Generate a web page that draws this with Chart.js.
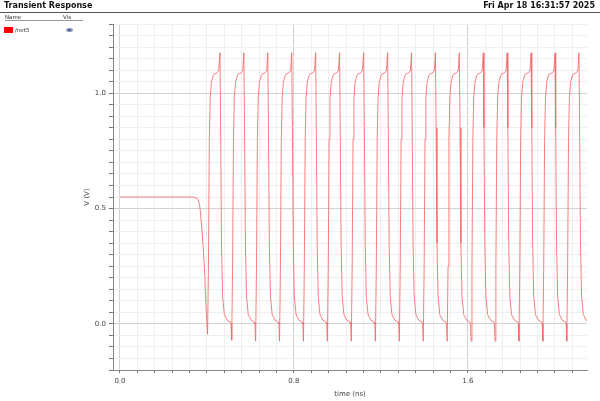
<!DOCTYPE html>
<html>
<head>
<meta charset="utf-8">
<script src="https://cdn.jsdelivr.net/npm/chart.js@4.4.1/dist/chart.umd.min.js"></script>
<style>
  body { margin: 0; background: #fff; }
  #wrap { position: relative; width: 600px; height: 401px; font-family: "DejaVu Sans", sans-serif; }
  #chartWave { position: absolute; left: 0; top: 0; }
  .hdr { position: absolute; top: 1px; font-weight: bold; font-size: 8px; color: #111; white-space: nowrap; }
  #rule { position: absolute; left: 0; top: 12px; width: 600px; height: 0; border-top: 1.5px solid #555; }
  .leg { position: absolute; font-size: 5.5px; color: #333; white-space: nowrap; }
  #legRule { position: absolute; left: 5px; top: 20px; width: 78px; border-top: 1px solid #999; }
  #swatch { position: absolute; left: 4px; top: 27px; width: 9px; height: 6px; background: #f00; }
  #eye { position: absolute; left: 66px; top: 28px; width: 7px; height: 4px; border-radius: 50%; background: #8a9cc4; }
  #eye:after { content: ""; position: absolute; left: 2px; top: 1px; width: 3px; height: 2px; border-radius: 50%; background: #3f5588; }
</style>
</head>
<body>
<div id="wrap">
  <canvas id="chartWave" width="600" height="401"></canvas>
  <div class="hdr" style="left:4px">Transient Response</div>
  <div class="hdr" style="right:5px">Fri Apr 18 16:31:57 2025</div>
  <div id="rule"></div>
  <div class="leg" style="left:5px; top:14px">Name</div>
  <div class="leg" style="left:63px; top:14px">Vis</div>
  <div id="legRule"></div>
  <div id="swatch"></div>
  <div class="leg" style="left:15px; top:27px">/net5</div>
  <div id="eye"></div>
</div>
<script>
// signal name
const seriesName = "/net5";

// time points (ns)
const timeNs = [
    0.000, 0.330, 0.345, 0.359, 0.368, 0.376, 0.383, 0.390, 0.396, 0.403,
    0.407, 0.411, 0.415, 0.421, 0.430, 0.448, 0.454,
    0.460, 0.463, 0.467, 0.472, 0.480, 0.494, 0.508, 0.511, 0.514, 0.518, 0.522, 0.526, 0.532, 0.541, 0.559, 0.565,
    0.570, 0.573, 0.577, 0.582, 0.590, 0.604, 0.618, 0.621, 0.624, 0.628, 0.632, 0.636, 0.642, 0.651, 0.669, 0.675,
    0.680, 0.683, 0.687, 0.692, 0.700, 0.714, 0.728, 0.731, 0.734, 0.738, 0.742, 0.746, 0.752, 0.761, 0.779, 0.785,
    0.790, 0.793, 0.797, 0.802, 0.810, 0.824, 0.838, 0.841, 0.844, 0.848, 0.852, 0.856, 0.862, 0.871, 0.889, 0.895,
    0.900, 0.903, 0.907, 0.912, 0.920, 0.934, 0.948, 0.951, 0.954, 0.958, 0.962, 0.966, 0.972, 0.981, 0.999, 1.005,
    1.010, 1.013, 1.017, 1.022, 1.030, 1.044, 1.058, 1.061, 1.064, 1.068, 1.072, 1.076, 1.082, 1.091, 1.109, 1.115,
    1.121, 1.124, 1.128, 1.133, 1.141, 1.155, 1.169, 1.172, 1.175, 1.179, 1.183, 1.187, 1.193, 1.202, 1.220, 1.226,
    1.231, 1.234, 1.238, 1.243, 1.251, 1.265, 1.279, 1.282, 1.285, 1.289, 1.293, 1.297, 1.303, 1.312, 1.330, 1.336,
    1.341, 1.344, 1.348, 1.353, 1.361, 1.375, 1.389, 1.392, 1.395, 1.399, 1.403, 1.407, 1.413, 1.422, 1.440, 1.446,
    1.451, 1.454, 1.458, 1.463, 1.471, 1.485, 1.499, 1.502, 1.505, 1.509, 1.513, 1.517, 1.523, 1.532, 1.550, 1.556,
    1.561, 1.564, 1.568, 1.573, 1.581, 1.595, 1.609, 1.612, 1.615, 1.619, 1.623, 1.627, 1.633, 1.642, 1.660, 1.666,
    1.671, 1.674, 1.678, 1.683, 1.691, 1.705, 1.719, 1.722, 1.725, 1.729, 1.733, 1.737, 1.743, 1.752, 1.770, 1.776,
    1.781, 1.784, 1.788, 1.793, 1.801, 1.815, 1.829, 1.832, 1.835, 1.839, 1.843, 1.847, 1.853, 1.862, 1.880, 1.886,
    1.891, 1.894, 1.898, 1.903, 1.911, 1.925, 1.939, 1.942, 1.945, 1.949, 1.953, 1.957, 1.963, 1.972, 1.990, 1.996,
    2.001, 2.004, 2.008, 2.013, 2.021, 2.035, 2.049, 2.052, 2.055, 2.059, 2.063, 2.067, 2.073, 2.082, 2.100, 2.106,
    2.111, 2.114, 2.118, 2.123, 2.131, 2.145, 2.147
];

// voltage (V) at each time point
const voltage = [
    0.550, 0.550, 0.548, 0.540, 0.505, 0.420, 0.330, 0.210, 0.070, -0.045,
    0.25, 0.80, 0.98, 1.05, 1.08, 1.09, 1.10,
    1.175, 0.85, 0.35, 0.12, 0.04, 0.015, 0.008, 0.000, -0.071, 0.25, 0.80, 0.98, 1.05, 1.08, 1.09, 1.10,
    1.175, 0.85, 0.35, 0.12, 0.04, 0.015, 0.008, 0.000, -0.075, 0.25, 0.80, 0.98, 1.05, 1.08, 1.09, 1.10,
    1.175, 0.85, 0.35, 0.12, 0.04, 0.015, 0.008, 0.000, -0.075, 0.25, 0.80, 0.98, 1.05, 1.08, 1.09, 1.10,
    1.175, 0.85, 0.35, 0.12, 0.04, 0.015, 0.008, 0.000, -0.075, 0.25, 0.80, 0.98, 1.05, 1.08, 1.09, 1.10,
    1.175, 0.85, 0.35, 0.12, 0.04, 0.015, 0.008, 0.000, -0.075, 0.25, 0.80, 0.98, 1.05, 1.08, 1.09, 1.10,
    1.175, 0.85, 0.35, 0.12, 0.04, 0.015, 0.008, 0.000, -0.075, 0.25, 0.80, 0.98, 1.05, 1.08, 1.09, 1.10,
    1.175, 0.85, 0.35, 0.12, 0.04, 0.015, 0.008, 0.000, -0.075, 0.25, 0.80, 0.98, 1.05, 1.08, 1.09, 1.10,
    1.175, 0.85, 0.35, 0.12, 0.04, 0.015, 0.008, 0.000, -0.075, 0.25, 0.80, 0.98, 1.05, 1.08, 1.09, 1.10,
    1.175, 0.85, 0.35, 0.12, 0.04, 0.015, 0.008, 0.000, -0.075, 0.25, 0.80, 0.98, 1.05, 1.08, 1.09, 1.10,
    1.175, 0.85, 0.35, 0.12, 0.04, 0.015, 0.008, 0.000, -0.075, 0.25, 0.80, 0.98, 1.05, 1.08, 1.09, 1.10,
    1.175, 0.85, 0.35, 0.12, 0.04, 0.015, 0.008, 0.000, -0.075, 0.25, 0.80, 0.98, 1.05, 1.08, 1.09, 1.10,
    1.175, 0.85, 0.35, 0.12, 0.04, 0.015, 0.008, 0.000, -0.075, 0.25, 0.80, 0.98, 1.05, 1.08, 1.09, 1.10,
    1.175, 0.85, 0.35, 0.12, 0.04, 0.015, 0.008, 0.000, -0.075, 0.25, 0.80, 0.98, 1.05, 1.08, 1.09, 1.10,
    1.175, 0.85, 0.35, 0.12, 0.04, 0.015, 0.008, 0.000, -0.075, 0.25, 0.80, 0.98, 1.05, 1.08, 1.09, 1.10,
    1.175, 0.85, 0.35, 0.12, 0.04, 0.015, 0.008, 0.000, -0.075, 0.25, 0.80, 0.98, 1.05, 1.08, 1.09, 1.10,
    1.175, 0.85, 0.35, 0.12, 0.04, 0.015, 0.014
];

// axis ranges and tick spacing
const xRange = [-0.032, 2.148];
const yRange = [-0.2, 1.3];
const xMinorStep = 0.08, xMajorStep = 0.8;
const yMinorStep = 0.05, yMajorStep = 0.5;

const onStep = (v, step) => Math.abs(v / step - Math.round(v / step)) < 1e-6;
const tickFont = { family: "DejaVu Sans", size: 7 };

const chartWave = new Chart(document.getElementById("chartWave"), {
    type: "line",
    data: {
        datasets: [{
            label: seriesName,
            data: timeNs.map((t, i) => ({ x: t, y: voltage[i] })),
            borderColor: "rgba(244,105,105,0.85)",
            borderWidth: 1,
            pointRadius: 0,
            tension: 0
        }]
    },
    options: {
        responsive: false,
        animation: false,
        layout: { padding: { left: 80, top: 24, right: 13, bottom: 0 } },
        plugins: { legend: { display: false }, tooltip: { enabled: false } },
        scales: {
            x: {
                type: "linear",
                min: xRange[0],
                max: xRange[1],
                afterFit: scale => { scale.height = 31; },
                ticks: {
                    stepSize: xMinorStep,
                    includeBounds: false,
                    autoSkip: false,
                    maxRotation: 0,
                    padding: 4,
                    color: "#444",
                    font: tickFont,
                    callback: v => onStep(v, xMajorStep) ? v.toFixed(1) : ""
                },
                grid: {
                    color: ctx => onStep(ctx.tick.value, xMajorStep) ? "#d2d2d2" : "#efefef",
                    tickColor: "#777",
                    tickLength: 3
                },
                border: { color: "#888" },
                title: { display: true, text: "time (ns)", color: "#444", font: tickFont, padding: 3 }
            },
            y: {
                min: yRange[0],
                max: yRange[1],
                afterFit: scale => { scale.width = 33; },
                ticks: {
                    stepSize: yMinorStep,
                    includeBounds: false,
                    autoSkip: false,
                    padding: 3,
                    color: "#444",
                    font: tickFont,
                    callback: v => onStep(v, yMajorStep) ? v.toFixed(1) : ""
                },
                grid: {
                    color: ctx => onStep(ctx.tick.value, yMajorStep) ? "#d2d2d2" : "#efefef",
                    tickColor: "#777",
                    tickLength: 4
                },
                border: { color: "#888" },
                title: { display: true, text: "V (V)", color: "#444", font: tickFont, padding: 3 }
            }
        }
    }
});
</script>
</body>
</html>
